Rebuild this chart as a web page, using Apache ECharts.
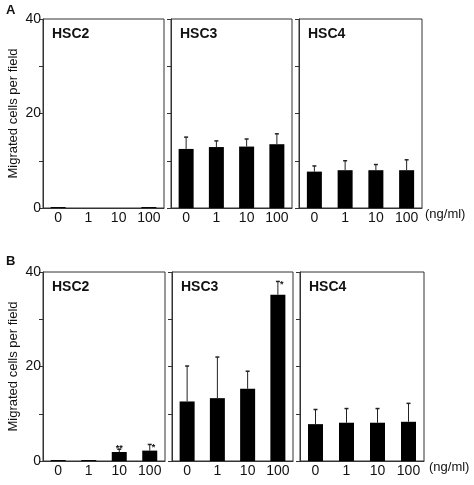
<!DOCTYPE html>
<html>
<head>
<meta charset="utf-8">
<script src="https://cdn.jsdelivr.net/npm/echarts@6/dist/echarts.min.js"></script>
<style>
html,body{margin:0;padding:0;background:#fff;}
#c{width:474px;height:485px;}
</style>
</head>
<body>
<div id="c"></div>
<script>
// ---- data ----
const doses = ['0', '1', '10', '100'];
const cellLines = ['HSC2', 'HSC3', 'HSC4'];
const yTicks = [0, 20, 40];
// Panel A
const A_HSC2_mean = [0.2, 0, 0, 0.2];
const A_HSC2_sd   = [0, 0, 0, 0];
const A_HSC3_mean = [12.5, 12.9, 13.0, 13.5];
const A_HSC3_sd   = [2.5, 1.3, 1.6, 2.2];
const A_HSC4_mean = [7.7, 8.0, 8.0, 8.0];
const A_HSC4_sd   = [1.2, 2.0, 1.2, 2.2];
// Panel B
const B_HSC2_mean = [0.2, 0.2, 1.9, 2.2];
const B_HSC2_sd   = [0, 0, 0.6, 1.3];
const B_HSC2_sig  = ['', '', '**', '*'];
const B_HSC3_mean = [12.6, 13.3, 15.3, 35.2];
const B_HSC3_sd   = [7.5, 8.7, 3.7, 2.8];
const B_HSC3_sig  = ['', '', '', '*'];
const B_HSC4_mean = [7.8, 8.1, 8.1, 8.3];
const B_HSC4_sd   = [3.1, 3.0, 3.0, 3.9];
const noSig = ['', '', '', ''];

const panels = [
  {row: 0, col: 0, name: cellLines[0], mean: A_HSC2_mean, sd: A_HSC2_sd, sig: noSig},
  {row: 0, col: 1, name: cellLines[1], mean: A_HSC3_mean, sd: A_HSC3_sd, sig: noSig},
  {row: 0, col: 2, name: cellLines[2], mean: A_HSC4_mean, sd: A_HSC4_sd, sig: noSig},
  {row: 1, col: 0, name: cellLines[0], mean: B_HSC2_mean, sd: B_HSC2_sd, sig: B_HSC2_sig},
  {row: 1, col: 1, name: cellLines[1], mean: B_HSC3_mean, sd: B_HSC3_sd, sig: B_HSC3_sig},
  {row: 1, col: 2, name: cellLines[2], mean: B_HSC4_mean, sd: B_HSC4_sd, sig: noSig}
];

// ---- layout ----
const FONT = 'Liberation Sans, Arial, sans-serif';
const rowTop = [19, 272];
const rowH = 189;
const colLeft = [[43, 171, 299], [43, 172, 300]];
const colW = [[121, 121, 123], [122, 121, 124]];

const grids = [], xAxes = [], yAxes = [], series = [], titles = [];
panels.forEach((p, i) => {
  grids.push({
    left: colLeft[p.row][p.col], top: rowTop[p.row],
    width: colW[p.row][p.col], height: rowH,
    show: true, borderColor: '#333', borderWidth: 1, backgroundColor: 'transparent'
  });
  xAxes.push({
    type: 'category', gridIndex: i, data: doses,
    axisLine: {show: true, lineStyle: {color: '#333', width: 1}},
    axisTick: {show: false},
    axisLabel: {interval: 0, hideOverlap: false, color: '#111', fontFamily: FONT, fontSize: 14, margin: 3}
  });
  yAxes.push({
    type: 'value', gridIndex: i, min: 0, max: 40, interval: 10,
    splitLine: {show: false},
    axisLine: {show: true, lineStyle: {color: '#333', width: 1}},
    axisTick: {show: true, length: 4, lineStyle: {color: '#333'}},
    axisLabel: {
      show: p.col === 0, color: '#111', fontFamily: FONT, fontSize: 14, margin: 2,
      formatter: v => yTicks.indexOf(v) >= 0 ? String(v) : ''
    },
    name: p.col === 0 ? 'Migrated cells per field' : '',
    nameLocation: 'middle', nameGap: 23,
    nameTextStyle: {color: '#111', fontFamily: FONT, fontSize: 13}
  });
  series.push({
    type: 'bar', xAxisIndex: i, yAxisIndex: i,
    data: p.mean, barWidth: 15,
    itemStyle: {color: '#000'}
  });
  const sig = p.sig;
  series.push({
    type: 'custom', xAxisIndex: i, yAxisIndex: i,
    data: p.mean.map((m, k) => [k, m, p.sd[k]]),
    z: 5,
    renderItem: function (params, api) {
      const x = api.value(0), m = api.value(1), s = api.value(2);
      const children = [];
      const mark = sig[params.dataIndex];
      if (s > 0) {
        const p0 = api.coord([x, m]);
        const p1 = api.coord([x, m + s]);
        children.push({type: 'line', shape: {x1: p0[0], y1: p0[1], x2: p1[0], y2: p1[1]},
          style: {stroke: '#222', lineWidth: 1}});
        children.push({type: 'line', shape: {x1: p1[0] - 2, y1: p1[1], x2: p1[0] + 2, y2: p1[1]},
          style: {stroke: '#222', lineWidth: 1.5}});
        if (mark) {
          const two = mark.length > 1;
          children.push({type: 'text', x: two ? p1[0] : p1[0] + 2, y: two ? p1[1] - 1 : p1[1] + 3,
            style: {text: mark, fill: '#111', font: 'bold 9px ' + FONT,
              textAlign: two ? 'center' : 'left', textVerticalAlign: 'middle'}});
        }
      }
      return {type: 'group', children: children};
    }
  });
  titles.push({
    text: p.name, left: colLeft[p.row][p.col] + 9, top: rowTop[p.row] + 8,
    textStyle: {fontFamily: FONT, fontSize: 14, fontWeight: 'bold', color: '#111'},
    padding: 0
  });
});

titles.push({text: 'A', left: 6, top: 4, padding: 0,
  textStyle: {fontFamily: FONT, fontSize: 13, fontWeight: 'bold', color: '#111'}});
titles.push({text: 'B', left: 6, top: 255, padding: 0,
  textStyle: {fontFamily: FONT, fontSize: 13, fontWeight: 'bold', color: '#111'}});
titles.push({text: '(ng/ml)', left: 425, top: 208, padding: 0,
  textStyle: {fontFamily: FONT, fontSize: 13, fontWeight: 'normal', color: '#111'}});
titles.push({text: '(ng/ml)', left: 429, top: 461, padding: 0,
  textStyle: {fontFamily: FONT, fontSize: 13, fontWeight: 'normal', color: '#111'}});

const chart = echarts.init(document.getElementById('c'), null, {renderer: 'canvas'});
chart.setOption({
  animation: false,
  backgroundColor: '#fff',
  title: titles,
  grid: grids,
  xAxis: xAxes,
  yAxis: yAxes,
  series: series
});
</script>
</body>
</html>
